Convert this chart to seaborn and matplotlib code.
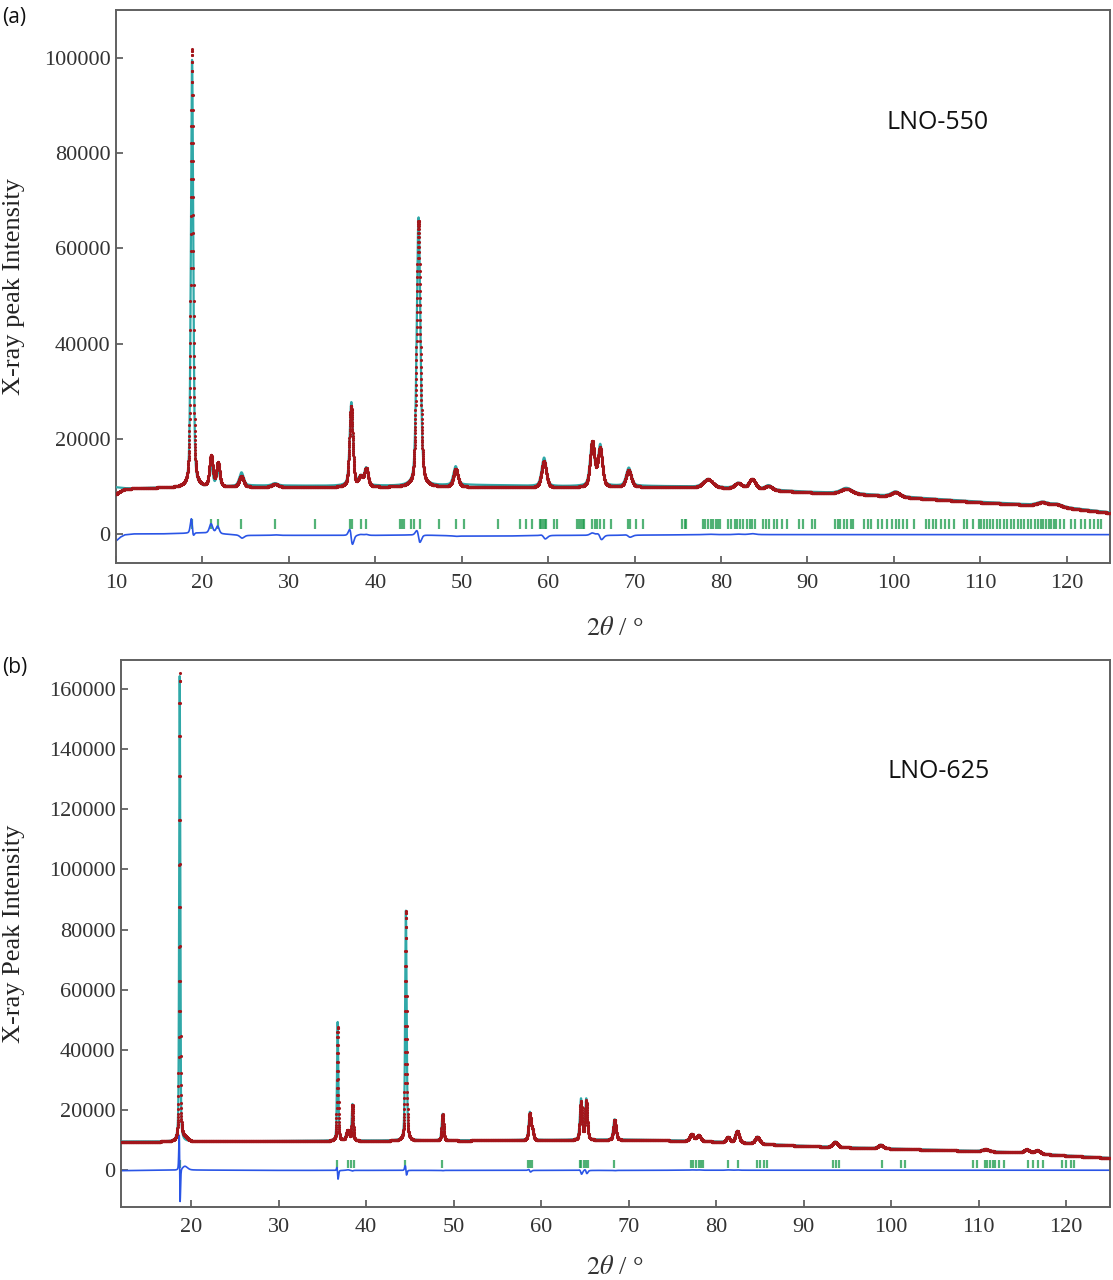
import numpy as np
import pandas as pd
import matplotlib
matplotlib.use("Agg")
import matplotlib.pyplot as plt
import seaborn as sns

# --- DATI ---
# pannello (a) LNO-550: fondo osservato / calcolato
bg_a_x = [10, 10.5, 11, 12, 15, 20, 25, 30, 35, 40, 45, 50, 55, 60, 65, 70, 75, 80, 85, 90, 95, 100, 105, 110, 115, 120, 125]
bg_a_obs = [8300, 9000, 9400, 9550, 9700, 9800, 9850, 9850, 9800, 9800, 9800, 9850, 9750, 9700, 9750, 9850, 9800, 9600, 9200, 8700, 8400, 7800, 7200, 6600, 6100, 5400, 4400]
bg_a_calc = [9800, 9700, 9600, 9550, 9700, 9600, 10150, 10150, 10100, 10100, 10000, 10300, 10200, 10000, 10050, 10100, 10000, 9750, 9350, 8850, 8550, 7950, 7350, 6750, 6250, 5550, 4550]

# picchi (a): posizione, altezza osservata, altezza calcolata, FWHM
pk_a_pos = [18.8, 21.0, 21.8, 24.5, 28.4, 37.2, 38.3, 38.95, 45.0, 49.3, 59.5, 65.1, 66.0, 69.3, 78.5, 82.0, 83.6, 85.5, 94.5, 100.2, 117.2, 118.8]
pk_a_calc_pos = [18.804, 21.0, 21.82, 24.52, 28.4, 37.23, 38.3, 38.95, 45.008, 49.3, 59.53, 65.1, 66.03, 69.33, 78.5, 82.0, 83.6, 85.5, 94.5, 100.2, 117.2, 118.8]
pk_a_obs = [92000, 6500, 5000, 2200, 600, 17000, 2000, 3800, 56000, 3800, 5500, 9500, 8000, 3500, 1800, 1200, 2200, 900, 1100, 1000, 800, 600]
pk_a_calc = [90000, 4500, 3500, 2800, 500, 17500, 1800, 3600, 56500, 3900, 6000, 9000, 8500, 3800, 1700, 1100, 2000, 900, 1100, 1000, 800, 600]
pk_a_fwhm = [0.32, 0.45, 0.45, 0.6, 0.8, 0.45, 0.6, 0.5, 0.5, 0.6, 0.65, 0.6, 0.6, 0.7, 1.3, 1.0, 0.9, 1.0, 1.5, 1.2, 1.5, 1.5]

# riflessi di Bragg (a)
bragg_a = [18.75, 21.0, 21.8, 24.5, 28.45, 33.05, 37.1, 37.3, 38.3, 38.95, 42.9, 43.1, 43.3, 44.15, 44.5, 45.15,
           47.35, 49.3, 50.3, 54.15, 56.7, 57.4, 58.1, 59.0, 59.2, 59.4, 59.6, 59.8, 60.7, 61.05, 63.3, 63.6,
           63.8, 64.0, 64.2, 65.1, 65.4, 65.7, 66.0, 66.5, 67.3, 69.2, 69.5, 70.2, 71.0, 75.5, 75.8, 76.0,
           77.9, 78.2, 78.5, 78.8, 79.1, 79.4, 79.7, 79.9, 80.8, 81.1, 81.6, 81.9, 82.2, 82.5, 83.0, 83.3,
           83.6, 83.9, 84.9, 85.2, 85.6, 86.1, 86.5, 87.0, 87.6, 89.0, 89.5, 90.5, 90.9, 93.2, 93.5, 93.8,
           94.2, 94.6, 95.0, 95.3, 96.5, 97.0, 97.3, 98.2, 98.6, 99.2, 99.8, 100.2, 100.6, 101.0, 101.5, 102.3,
           103.7, 104.1, 104.5, 104.9, 105.4, 105.9, 106.4, 106.9, 108.1, 108.5, 109.1, 109.8, 110.1, 110.4,
           110.8, 111.1, 111.5, 111.9, 112.3, 112.7, 113.1, 113.5, 113.9, 114.3, 114.7, 115.1, 115.5, 115.9,
           116.3, 116.7, 117.0, 117.3, 117.6, 117.9, 118.2, 118.5, 118.8, 119.2, 119.7, 120.5, 121.0, 121.6,
           122.1, 122.7, 123.2, 123.6, 124.0]

# pannello (b) LNO-625
bg_b_x = [12, 15, 20, 25, 30, 40, 50, 60, 70, 75, 80, 85, 90, 95, 100, 105, 110, 115, 120, 125]
bg_b_obs = [9300, 9400, 9500, 9500, 9600, 9700, 9800, 9900, 10000, 9800, 9400, 8700, 8000, 7500, 7100, 6700, 6300, 5700, 4800, 4000]
bg_b_calc = [9500, 9500, 9500, 9550, 9700, 9800, 9900, 10000, 10100, 9850, 9450, 8750, 8050, 7550, 7150, 6750, 6350, 5750, 4850, 4050]

pk_b_pos = [18.7, 19.3, 36.75, 37.9, 38.45, 44.55, 48.75, 58.7, 59.0, 64.55, 65.15, 68.4, 77.2, 78.0, 81.35, 82.4, 84.7, 93.6, 98.8, 110.8, 115.5, 116.7]
pk_b_calc_pos = [18.7075, 19.3, 36.756, 37.9, 38.45, 44.553, 48.75, 58.71, 59.0, 64.56, 65.16, 68.4, 77.2, 78.0, 81.35, 82.4, 84.7, 93.6, 98.8, 110.8, 115.5, 116.7]
pk_b_obs = [155500, 1300, 38000, 3500, 11800, 76500, 8700, 8800, 3000, 12600, 12900, 6700, 2400, 2100, 1800, 4000, 2300, 1800, 1200, 700, 1200, 1100]
pk_b_calc = [155000, 0, 39500, 3300, 12000, 76500, 8800, 9000, 3000, 13500, 13500, 6800, 2300, 2000, 1700, 3900, 2300, 1800, 1200, 700, 1200, 1100]
pk_b_fwhm = [0.14, 0.7, 0.17, 0.4, 0.2, 0.2, 0.25, 0.3, 0.3, 0.3, 0.3, 0.35, 0.5, 0.5, 0.45, 0.5, 0.6, 0.6, 0.7, 0.9, 0.8, 0.8]

bragg_b = [18.7, 36.7, 37.9, 38.3, 38.6, 44.5, 48.7, 58.5, 58.7, 59.0, 64.4, 64.6, 64.9, 65.1, 65.4, 68.35,
           77.1, 77.4, 77.7, 78.0, 78.3, 78.5, 81.4, 82.5, 84.7, 85.0, 85.5, 85.8, 93.4, 93.7, 94.0, 98.9,
           101.1, 101.6, 109.4, 109.8, 110.7, 111.0, 111.3, 111.6, 111.9, 112.3, 112.9, 115.6, 116.2, 116.8,
           117.4, 119.5, 120.0, 120.5, 120.9]

yticks_a = [0, 20000, 40000, 60000, 80000, 100000]
yticks_b = [0, 20000, 40000, 60000, 80000, 100000, 120000, 140000, 160000]
xticks_a = [10, 20, 30, 40, 50, 60, 70, 80, 90, 100, 110, 120]
xticks_b = [20, 30, 40, 50, 60, 70, 80, 90, 100, 110, 120]


def profile(tt, bg_x, bg_y, pos, height, fwhm, eta=0.4):
    # fondo + somma di pseudo-Voigt
    y = np.interp(tt, bg_x, bg_y).astype(float)
    for p, h, w in zip(pos, height, fwhm):
        d = (tt - p) / w
        g = np.exp(-4 * np.log(2) * d ** 2)
        l = 1.0 / (1.0 + 4 * d ** 2)
        y += h * (eta * l + (1 - eta) * g)
    return y


def build(tt, bg_x, bg_obs, bg_calc, pos, cpos, hobs, hcalc, fwhm):
    obs = profile(tt, bg_x, bg_obs, pos, hobs, fwhm)
    calc = profile(tt, bg_x, bg_calc, cpos, hcalc, fwhm)
    return pd.DataFrame({"tt": tt, "obs": obs, "calc": calc, "diff": obs - calc})


sns.set_theme(style="ticks")
plt.rcParams["font.family"] = ["Liberation Serif", "DejaVu Serif"]
plt.rcParams["mathtext.fontset"] = "stix"

fig = plt.figure(figsize=(11.13, 12.8), dpi=100)
ax_a = fig.add_axes([0.1042, 0.5602, 0.8931, 0.4320])
ax_b = fig.add_axes([0.1087, 0.0570, 0.8886, 0.4274])

df_a = build(np.arange(10, 125.001, 0.01), bg_a_x, bg_a_obs, bg_a_calc,
             pk_a_pos, pk_a_calc_pos, pk_a_obs, pk_a_calc, pk_a_fwhm)
df_b = build(np.arange(12, 125.001, 0.01), bg_b_x, bg_b_obs, bg_b_calc,
             pk_b_pos, pk_b_calc_pos, pk_b_obs, pk_b_calc, pk_b_fwhm)

panels = [
    (ax_a, df_a, bragg_a, (1000, 3200), (10, 125), (-6100, 110100), xticks_a, yticks_a, "LNO-550", "X-ray peak Intensity", "(a)"),
    (ax_b, df_b, bragg_b, (600, 3300), (12, 125), (-12300, 169700), xticks_b, yticks_b, "LNO-625", "X-ray Peak Intensity", "(b)"),
]

for ax, df, bragg, tick_span, xlim, ylim, xt, yt, name, ylab, tag in panels:
    ax.vlines(bragg, tick_span[0], tick_span[1], colors="#1a9a4a", linewidth=1.6, alpha=0.75, zorder=1)
    sns.lineplot(data=df, x="tt", y="diff", ax=ax, color="#2a55e6", linewidth=1.2, estimator=None, zorder=2)
    sns.lineplot(data=df, x="tt", y="calc", ax=ax, color="#30a8a8", linewidth=1.6, estimator=None, zorder=3)
    sns.scatterplot(data=df, x="tt", y="obs", ax=ax, color="#a3161b", s=5, linewidth=0, zorder=4)

    ax.set_xlim(*xlim)
    ax.set_ylim(*ylim)
    ax.set_xticks(xt)
    ax.set_yticks(yt)
    ax.set_xlabel("")
    ax.set_ylabel("")
    ax.tick_params(direction="in", length=5, width=1.2, colors="#555555", labelcolor="#333333", labelsize=16)
    ax.tick_params(axis="x", pad=8)
    ax.tick_params(axis="y", pad=4)
    for s in ax.spines.values():
        s.set_visible(True)
        s.set_color("#606060")
        s.set_linewidth(1.4)

    ax.text(0.827, 0.797, name, transform=ax.transAxes, fontsize=18, family="Open Sans",
            ha="center", va="center", color="#111111")

    pos = ax.get_position()
    yc = (pos.y0 + pos.y1) / 2
    fig.text(0.013, yc, ylab, rotation=90, ha="center", va="center", fontsize=19, color="#222222")
    fig.text(0.002, pos.y1 - 0.006, tag, ha="left", va="center", fontsize=15, family="Open Sans", color="#111111")

fig.text(0.5526, 0.509, r"$2\theta$ / °", ha="center", va="center", fontsize=19, color="#333333")
fig.text(0.5526, 0.010, r"$2\theta$ / °", ha="center", va="center", fontsize=19, color="#333333")

fig.savefig("out.png", dpi=100)
plt.close(fig)
